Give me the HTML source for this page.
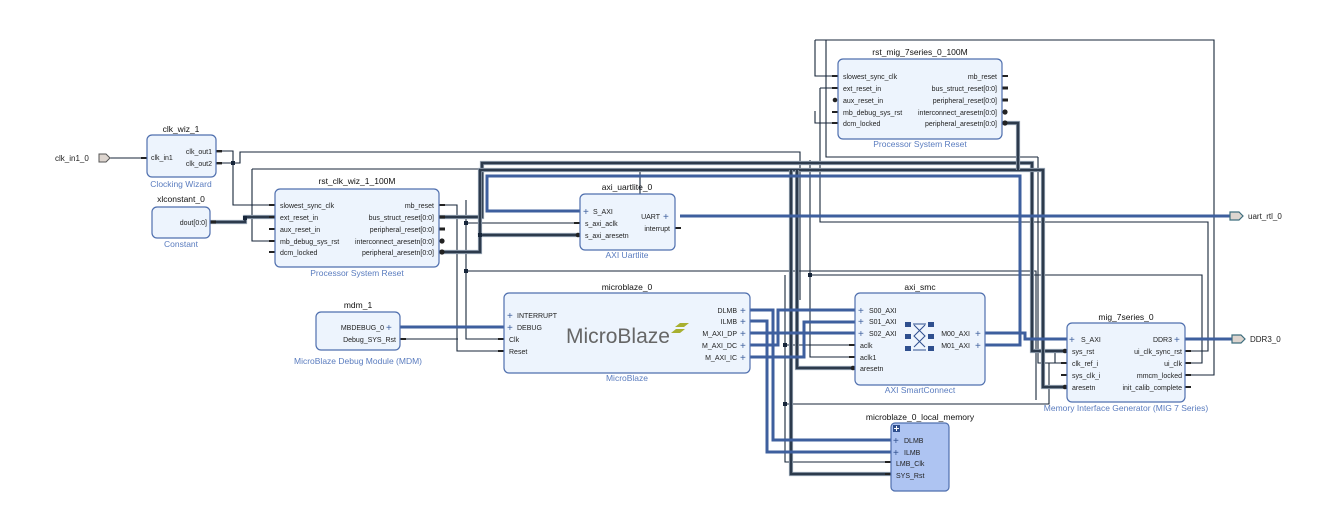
<!DOCTYPE html>
<html><head><meta charset="utf-8"><style>
html,body{margin:0;padding:0;background:#fff;}
svg{display:block;font-family:"Liberation Sans",sans-serif;}
.b{fill:#edf4fd;stroke:#4f6fae;stroke-width:1.2;}
.t{font-size:8.5px;fill:#111;text-anchor:middle;}
.s{font-size:8.5px;fill:#5a7cbf;text-anchor:middle;}
.p{font-size:7px;fill:#222;}
.r{text-anchor:end;}
.w{fill:none;stroke:#17263a;stroke-width:1.1;}
.k{fill:none;stroke:#2c3a4c;stroke-width:2.6;}
.kg{fill:none;stroke:#9aa8b6;stroke-width:4.2;}
.bl{fill:none;stroke:#3e5f9e;stroke-width:3;}
.st{fill:#222;}
</style></head><body>
<svg width="1342" height="523" viewBox="0 0 1342 523" xmlns="http://www.w3.org/2000/svg">
<g class="w">
<path d="M110 158H147"/>
<path d="M216 151H233V205H275"/>
<path d="M216 163H240V152H800V300"/>
<path d="M252 169V241H275"/>
<path d="M252 169H640V222"/>
<path d="M439 205H457V351H504"/>
<path d="M466 223H580"/>
<path d="M466 200V339H504"/>
<path d="M466 271H1036V400"/>
<path d="M400 339H458"/>
<path d="M815 40H1214V375H1186"/>
<path d="M815 40V76H838"/>
<path d="M820 88H838"/>
<path d="M820 88V222H1208V351H1186"/>
<path d="M815 111V123H838"/>
<path d="M810 275H1202V363H1186"/>
<path d="M810 160V357H855"/>
<path d="M785 275V462H891"/>
<path d="M785 345H855"/>
<path d="M785 404H1049V363H1067"/>
<path d="M1038 157V363H1055V351"/>
<path d="M1038 157H826V40"/>
<path d="M1038 363H1067"/>
</g>
<g>
<path class="kg" d="M210 222H245V217H275"/><path class="k" d="M210 222H245V217H275"/>
<path class="kg" d="M439 217H482V163H1032V351H1067"/><path class="k" d="M439 217H482V163H1032V351H1067"/>
<path class="kg" d="M439 252H480V235H580"/><path class="k" d="M439 252H480V235H580"/>
<path class="kg" d="M480 235V170H1043V387H1067"/><path class="k" d="M480 235V170H1043V387H1067"/>
<path class="kg" d="M797 170V368H855"/><path class="k" d="M797 170V368H855"/>
<path class="kg" d="M791 170V474H891"/><path class="k" d="M791 170V474H891"/>
<path class="kg" d="M1002 123H1018V170"/><path class="k" d="M1002 123H1018V170"/>
</g>
<g class="bl">
<path d="M580 211H487V176H1020V345H985"/>
<path d="M680 216H1230"/>
<path d="M400 327H504"/>
<path d="M750 310H773V440H891"/>
<path d="M750 321H767V452H891"/>
<path d="M750 333H855"/>
<path d="M750 345H778V310H855"/>
<path d="M750 357H804V322H855"/>
<path d="M985 333H1025V339H1067"/>
<path d="M1185 339H1232"/>
</g>
<g fill="#17263a">
<rect x="231" y="161" width="4" height="4"/><rect x="243" y="216" width="4" height="4"/>
<rect x="464" y="221" width="4" height="4"/><rect x="478" y="233" width="4" height="4"/>
<rect x="464" y="269" width="4" height="4"/><rect x="783" y="343" width="4" height="4"/>
<rect x="783" y="402" width="4" height="4"/><rect x="808" y="273" width="4" height="4"/>
</g>
<!-- pin stubs -->
<g class="st">
<rect x="141" y="157" width="6" height="2"/><rect x="216" y="150" width="6" height="2.4"/><rect x="216" y="162" width="6" height="2.4"/>
<rect x="210" y="220.5" width="6" height="3"/>
<rect x="269" y="204" width="6" height="2"/><rect x="269" y="216" width="6" height="2"/><rect x="269" y="228" width="6" height="2"/><rect x="269" y="240" width="6" height="2"/><rect x="269" y="251" width="6" height="2"/>
<rect x="439" y="204" width="6" height="2"/><rect x="439" y="215.5" width="6" height="3"/><rect x="439" y="227.5" width="6" height="3"/>
<circle cx="442" cy="241" r="2.6"/><circle cx="442" cy="252" r="2.6"/>
<rect x="832" y="75" width="6" height="2"/><rect x="832" y="87" width="6" height="2"/><rect x="832" y="111" width="6" height="2"/><rect x="832" y="122" width="6" height="2"/>
<circle cx="835" cy="100" r="2.3"/>
<rect x="1002" y="75" width="6" height="2"/><rect x="1002" y="86.5" width="6" height="3"/><rect x="1002" y="98.5" width="6" height="3"/>
<circle cx="1005" cy="112" r="2.6"/><circle cx="1005" cy="123" r="2.6"/>
<rect x="574" y="222" width="6" height="2"/><circle cx="578" cy="235" r="2.3"/><rect x="675" y="227" width="6" height="2"/>
<rect x="400" y="338" width="6" height="2"/>
<rect x="498" y="338" width="6" height="2"/><rect x="498" y="350" width="6" height="2"/>
<rect x="849" y="344" width="6" height="2"/><rect x="849" y="356" width="6" height="2"/><circle cx="853" cy="368" r="2.3"/>
<circle cx="1065" cy="351" r="2.3"/><rect x="1061" y="362" width="6" height="2"/><rect x="1061" y="374" width="6" height="2"/><circle cx="1065" cy="387" r="2.3"/>
<rect x="1185" y="350" width="6" height="2"/><rect x="1185" y="362" width="6" height="2"/><rect x="1185" y="374" width="6" height="2"/><rect x="1185" y="386" width="6" height="2"/>
<rect x="885" y="461" width="6" height="2"/><rect x="885" y="473" width="6" height="2"/>
</g>
<text class="p" x="55" y="161" style="font-size:8px">clk_in1_0</text>
<path d="M99 154H106L110 158L106 162H99Z" fill="#ddd5cf" stroke="#555" stroke-width="1"/>
<path d="M1230 212H1239L1243 216L1239 220H1230Z" fill="#ddd5cf" stroke="#3e6e7e" stroke-width="1.2"/>
<text class="p" x="1248" y="219" style="font-size:8px">uart_rtl_0</text>
<path d="M1232 335H1241L1245 339L1241 343H1232Z" fill="#ddd5cf" stroke="#3e6e7e" stroke-width="1.2"/>
<text class="p" x="1250" y="342" style="font-size:8px">DDR3_0</text>

<text class="t" x="181" y="132">clk_wiz_1</text>
<rect class="b" x="147" y="135" width="69" height="42" rx="5"/>
<text class="p" x="151" y="160">clk_in1</text>
<text class="p r" x="212" y="154">clk_out1</text><text class="p r" x="212" y="166">clk_out2</text>
<text class="s" x="181" y="187">Clocking Wizard</text>
<text class="t" x="181" y="202">xlconstant_0</text>
<rect class="b" x="152" y="207" width="58" height="31" rx="5"/>
<text class="p r" x="207" y="225">dout[0:0]</text>
<text class="s" x="181" y="247">Constant</text>
<text class="t" x="357" y="184">rst_clk_wiz_1_100M</text>
<rect class="b" x="275" y="189" width="164" height="78" rx="5"/>
<g class="p"><text x="280" y="208">slowest_sync_clk</text><text x="280" y="220">ext_reset_in</text><text x="280" y="232">aux_reset_in</text><text x="280" y="244">mb_debug_sys_rst</text><text x="280" y="255">dcm_locked</text></g>
<g class="p r"><text x="434" y="208">mb_reset</text><text x="434" y="220">bus_struct_reset[0:0]</text><text x="434" y="232">peripheral_reset[0:0]</text><text x="434" y="244">interconnect_aresetn[0:0]</text><text x="434" y="255">peripheral_aresetn[0:0]</text></g>
<text class="s" x="357" y="276">Processor System Reset</text>
<text class="t" x="627" y="190">axi_uartlite_0</text>
<rect class="b" x="580" y="194" width="95" height="56" rx="5"/>
<g class="p"><text x="593" y="214">S_AXI</text><text x="585" y="226">s_axi_aclk</text><text x="585" y="238">s_axi_aresetn</text></g>
<g class="p r"><text x="660" y="219">UART</text><text x="670" y="231">interrupt</text></g>
<text class="p" x="583" y="215" style="font-size:10px;fill:#3e5f9e">+</text>
<text class="p" x="663" y="220" style="font-size:10px;fill:#3e5f9e">+</text>
<text class="s" x="627" y="258">AXI Uartlite</text>
<text class="t" x="920" y="55">rst_mig_7series_0_100M</text>
<rect class="b" x="838" y="59" width="164" height="80" rx="5"/>
<g class="p"><text x="843" y="79">slowest_sync_clk</text><text x="843" y="91">ext_reset_in</text><text x="843" y="103">aux_reset_in</text><text x="843" y="115">mb_debug_sys_rst</text><text x="843" y="126">dcm_locked</text></g>
<g class="p r"><text x="997" y="79">mb_reset</text><text x="997" y="91">bus_struct_reset[0:0]</text><text x="997" y="103">peripheral_reset[0:0]</text><text x="997" y="115">interconnect_aresetn[0:0]</text><text x="997" y="126">peripheral_aresetn[0:0]</text></g>
<text class="s" x="920" y="147">Processor System Reset</text>
<text class="t" x="358" y="308">mdm_1</text>
<rect class="b" x="316" y="312" width="84" height="38" rx="5"/>
<g class="p r"><text x="384" y="330">MBDEBUG_0</text><text x="396" y="342">Debug_SYS_Rst</text></g>
<text class="p" x="386" y="331" style="font-size:10px;fill:#3e5f9e">+</text>
<text class="s" x="358" y="364">MicroBlaze Debug Module (MDM)</text>
<text class="t" x="627" y="290">microblaze_0</text>
<rect class="b" x="504" y="293" width="246" height="80" rx="5"/>
<g class="p"><text x="517" y="318">INTERRUPT</text><text x="517" y="330">DEBUG</text><text x="509" y="342">Clk</text><text x="509" y="354">Reset</text></g>
<text class="p" x="507" y="319" style="font-size:10px;fill:#3e5f9e">+</text><text class="p" x="507" y="331" style="font-size:10px;fill:#3e5f9e">+</text>
<g class="p r"><text x="737" y="313">DLMB</text><text x="737" y="324">ILMB</text><text x="737" y="336">M_AXI_DP</text><text x="737" y="348">M_AXI_DC</text><text x="737" y="360">M_AXI_IC</text></g>
<g style="font-size:10px;fill:#3e5f9e"><text x="740" y="314">+</text><text x="740" y="325">+</text><text x="740" y="337">+</text><text x="740" y="349">+</text><text x="740" y="361">+</text></g>
<text x="566" y="343" textLength="104" lengthAdjust="spacingAndGlyphs" style="font-size:21px;fill:#666">MicroBlaze</text>
<path d="M680 323h9l-5 4h-9zM676 329h9l-5 4h-9z" fill="#a8b030"/>
<text class="s" x="627" y="381">MicroBlaze</text>
<text class="t" x="920" y="290">axi_smc</text>
<rect class="b" x="855" y="293" width="130" height="92" rx="5"/>
<g class="p"><text x="869" y="313">S00_AXI</text><text x="869" y="324">S01_AXI</text><text x="869" y="336">S02_AXI</text><text x="860" y="348">aclk</text><text x="860" y="360">aclk1</text><text x="860" y="371">aresetn</text></g>
<g style="font-size:10px;fill:#3e5f9e"><text x="858" y="314">+</text><text x="858" y="325">+</text><text x="858" y="337">+</text><text x="975" y="337">+</text><text x="975" y="349">+</text></g>
<g class="p r"><text x="970" y="336">M00_AXI</text><text x="970" y="348">M01_AXI</text></g>
<g fill="#2f4f8e"><rect x="905" y="322" width="6" height="5"/><rect x="928" y="322" width="6" height="5"/><rect x="905" y="334" width="6" height="5"/><rect x="928" y="334" width="6" height="5"/><rect x="905" y="346" width="6" height="5"/><rect x="928" y="346" width="6" height="5"/></g>
<path d="M913 324H926M913 350H926M914 325L925 336L914 347M925 325L914 336L925 347" stroke="#2f4f8e" stroke-width="1" fill="none"/>
<text class="s" x="920" y="393">AXI SmartConnect</text>
<text class="t" x="1126" y="320">mig_7series_0</text>
<rect class="b" x="1067" y="323" width="118" height="79" rx="5"/>
<g class="p"><text x="1081" y="342">S_AXI</text><text x="1072" y="354">sys_rst</text><text x="1072" y="366">clk_ref_i</text><text x="1072" y="378">sys_clk_i</text><text x="1072" y="390">aresetn</text></g>
<text style="font-size:10px;fill:#3e5f9e" x="1069" y="343">+</text><text style="font-size:10px;fill:#3e5f9e" x="1174" y="343">+</text>
<g class="p r"><text x="1172" y="342">DDR3</text><text x="1182" y="354">ui_clk_sync_rst</text><text x="1182" y="366">ui_clk</text><text x="1182" y="378">mmcm_locked</text><text x="1182" y="390">init_calib_complete</text></g>
<text class="s" x="1126" y="411">Memory Interface Generator (MIG 7 Series)</text>
<text class="t" x="920" y="420">microblaze_0_local_memory</text>
<rect x="891" y="423" width="58" height="68" rx="4" fill="#aec4f2" stroke="#4f6fae" stroke-width="1.2"/>
<rect x="893" y="425" width="7" height="7" fill="#2f4f8e"/><path d="M894 428.5h5M896.5 426v5" stroke="#fff" stroke-width="1"/>
<g class="p"><text x="904" y="443">DLMB</text><text x="904" y="455">ILMB</text><text x="896" y="466">LMB_Clk</text><text x="896" y="478">SYS_Rst</text></g>
<text style="font-size:10px;fill:#2f4f8e" x="893" y="444">+</text><text style="font-size:10px;fill:#2f4f8e" x="893" y="456">+</text>
</svg>
</body></html>
